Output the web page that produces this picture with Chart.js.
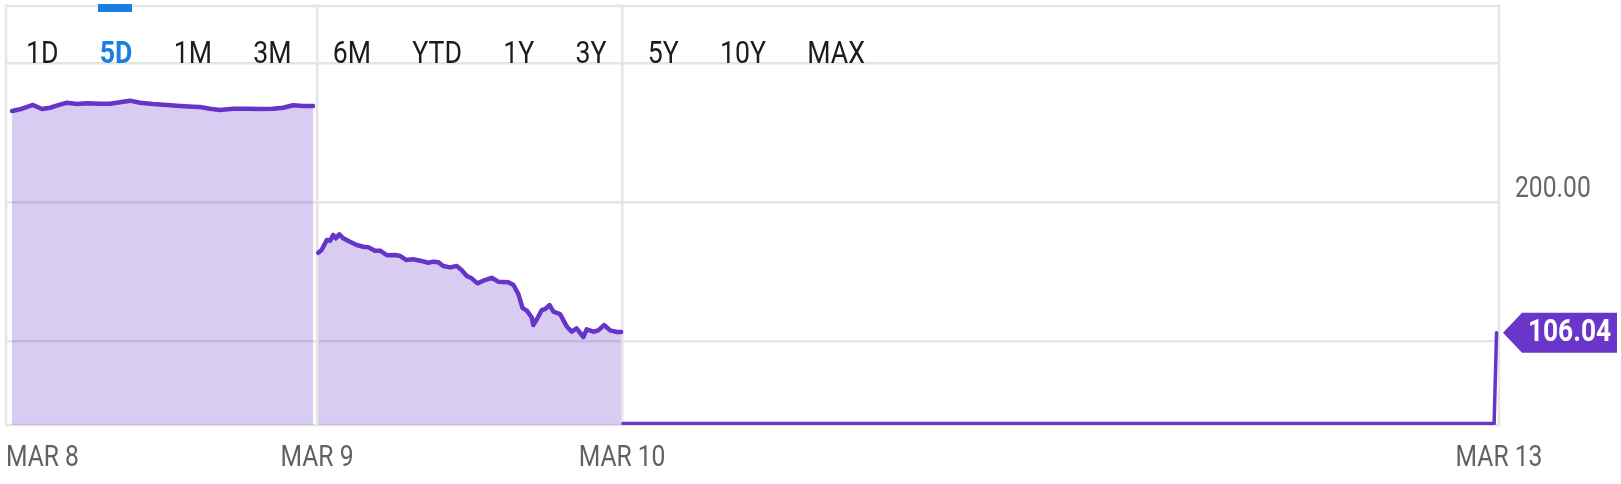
<!DOCTYPE html>
<html>
<head>
<meta charset="utf-8">
<script src="https://cdn.jsdelivr.net/npm/chart.js@4"></script>
<style>
  body { margin: 0; background: #fff; font-family: Roboto, sans-serif; }
  #wrap { position: relative; width: 1621px; height: 484px; }
  #ranges {
    position: absolute; left: 26px; top: 37px; display: flex; gap: 48px;
    font-size: 31px; line-height: 31px; color: #1c1c1c;
    transform: scaleX(0.86); transform-origin: 0 0; white-space: nowrap;
  }
  #ranges .active { color: #1a7fe3; font-weight: bold; }
  #activeBar { position: absolute; left: 98px; top: 4px; width: 34px; height: 8px; background: #1a7fe3; }
</style>
</head>
<body>
<div id="wrap">
  <canvas id="myChart"></canvas>
  <div id="ranges"></div>
  <div id="activeBar"></div>
</div>
<script>
// tick labels / ranges
const rangeButtons = ['1D', '5D', '1M', '3M', '6M', 'YTD', '1Y', '3Y', '5Y', '10Y', 'MAX'];
const activeRange = '5D';
const dayLabels = ['MAR 8', 'MAR 9', 'MAR 10', 'MAR 13'];
const dayTicks = [0, 1, 2, 4.875];
const priceTicks = [100, 200, 300];
const labelledPrices = [200];
const lastPrice = 106.04;

// MAR 8 session (x = days from MAR 8)
const mar8Times = [0, 0.026, 0.069, 0.098, 0.125, 0.157, 0.18, 0.213, 0.246, 0.289, 0.321, 0.354, 0.387, 0.42,
  0.462, 0.508, 0.551, 0.593, 0.616, 0.649, 0.682, 0.725, 0.77, 0.813, 0.856, 0.889, 0.921, 0.954, 0.987];
const mar8Prices = [265.5, 266.7, 269.8, 266.9, 267.8, 270.0, 271.4, 270.5, 271.0, 270.7, 270.7, 271.7, 272.9, 271.4,
  270.5, 269.8, 269.1, 268.6, 268.3, 267.1, 266.2, 267.1, 267.1, 266.9, 267.1, 267.8, 269.6, 269.1, 269.1];

// MAR 9 session
const mar9Times = [1.004, 1.015, 1.032, 1.043, 1.053, 1.062, 1.073, 1.086, 1.108, 1.130, 1.152, 1.168, 1.190, 1.207,
  1.229, 1.256, 1.272, 1.292, 1.316, 1.338, 1.365, 1.381, 1.398, 1.414, 1.436, 1.458, 1.474, 1.491, 1.507, 1.526,
  1.545, 1.573, 1.594, 1.627, 1.644, 1.660, 1.674, 1.688, 1.704, 1.709, 1.720, 1.737, 1.748, 1.762, 1.775, 1.797,
  1.819, 1.835, 1.851, 1.873, 1.884, 1.906, 1.922, 1.941, 1.961, 1.983, 1.997];
const mar9Prices = [163.5, 165.5, 172.7, 172.2, 176.3, 173.9, 176.8, 173.9, 171.4, 169.1, 167.8, 167.4, 165.0, 165.0,
  161.7, 161.9, 161.2, 158.3, 158.8, 157.8, 156.3, 157.1, 156.6, 154.0, 153.0, 154.0, 151.1, 146.8, 145.1, 141.5,
  143.4, 145.5, 142.7, 142.2, 140.3, 133.8, 123.7, 121.9, 116.9, 111.5, 115.5, 122.3, 123.0, 125.9, 121.2, 119.4,
  110.4, 106.7, 109.1, 102.9, 108.4, 106.7, 107.7, 111.5, 107.7, 106.5, 106.5];

// MAR 10 -> MAR 13 (flat at the bottom, then the last quote)
const mar10Times = [2.003, 4.859, 4.867];
const mar10Prices = [40.6, 40.6, lastPrice];

const lineColor = '#6634c9';
const fillColor = 'rgba(102, 51, 204, 0.25)';
const gridColor = '#e5e5e5';

// range buttons row
const rangesDiv = document.getElementById('ranges');
rangeButtons.forEach(r => {
  const span = document.createElement('span');
  span.textContent = r;
  if (r === activeRange) span.className = 'active';
  rangesDiv.appendChild(span);
});

const toPoints = (times, prices) => times.map((t, i) => ({ x: t, y: prices[i] }));

function condensedText(c, text, x, y, align) {
  c.save();
  c.translate(x, y);
  c.scale(0.85, 1);
  c.textAlign = align;
  c.fillText(text, 0, 0);
  c.restore();
}

const framePlugin = {
  id: 'frame',
  beforeDatasetsDraw(chart) {
    const a = chart.chartArea;
    const c = chart.ctx;
    c.save();
    c.strokeStyle = gridColor;
    c.lineWidth = 2.5;
    c.strokeRect(a.left, a.top, a.right - a.left, a.bottom - a.top);
    c.restore();
  }
};

const labelsPlugin = {
  id: 'labels',
  afterDraw(chart) {
    const c = chart.ctx;
    const a = chart.chartArea;
    const xs = chart.scales.x;
    const ys = chart.scales.y;
    c.save();
    c.textBaseline = 'alphabetic';
    c.font = '29px Roboto';
    c.fillStyle = '#616161';
    xs.ticks.forEach((t, i) => {
      const px = i === 0 ? a.left : xs.getPixelForValue(t.value);
      condensedText(c, dayLabels[i], px, 466, i === 0 ? 'left' : 'center');
    });
    c.fillStyle = '#666';
    labelledPrices.forEach(p => {
      condensedText(c, p.toFixed(2), a.right + 16, ys.getPixelForValue(p) - 5.5, 'left');
    });

    // last price tag
    const py = ys.getPixelForValue(lastPrice);
    const tip = a.right + 4;
    c.fillStyle = '#6a35c9';
    c.beginPath();
    c.moveTo(tip, py);
    c.lineTo(tip + 19, py - 20);
    c.lineTo(1617, py - 20);
    c.lineTo(1617, py + 20);
    c.lineTo(tip + 19, py + 20);
    c.closePath();
    c.fill();
    c.fillStyle = '#fff';
    c.font = 'bold 31px Roboto';
    c.textBaseline = 'middle';
    condensedText(c, lastPrice.toFixed(2), (tip + 19 + 1617) / 2, py + 1, 'center');
    c.restore();
  }
};

const ctx = document.getElementById('myChart').getContext('2d');
const chart = new Chart(ctx, {
  type: 'line',
  data: {
    datasets: [
      {
        data: toPoints(mar8Times, mar8Prices),
        borderColor: lineColor,
        backgroundColor: fillColor,
        fill: 'start'
      },
      {
        data: toPoints(mar9Times, mar9Prices),
        borderColor: lineColor,
        backgroundColor: fillColor,
        fill: 'start'
      },
      {
        data: toPoints(mar10Times, mar10Prices),
        borderColor: lineColor,
        borderWidth: 3.5,
        fill: false
      }
    ]
  },
  options: {
    responsive: true,
    maintainAspectRatio: false,
    animation: false,
    layout: { padding: { left: 6, top: 6, right: 0, bottom: 0 } },
    elements: {
      line: { borderWidth: 4.5, tension: 0, borderCapStyle: 'round', borderJoinStyle: 'round' },
      point: { radius: 0 }
    },
    plugins: { legend: { display: false }, tooltip: { enabled: false } },
    scales: {
      x: {
        type: 'linear',
        min: -0.0197,
        max: 4.875,
        afterBuildTicks: scale => { scale.ticks = dayTicks.map(v => ({ value: v })); },
        afterFit: scale => { scale.height = 59; },
        ticks: { display: false },
        border: { display: false },
        grid: {
          drawTicks: false,
          lineWidth: 2.5,
          color: c => (c.tick && (c.tick.value === 0 || c.tick.value === 4.875)) ? 'rgba(0,0,0,0)' : gridColor
        }
      },
      y: {
        position: 'right',
        min: 39.6,
        max: 341,
        afterBuildTicks: scale => { scale.ticks = priceTicks.map(v => ({ value: v })); },
        afterFit: scale => { scale.width = 122; },
        ticks: { display: false },
        border: { display: false },
        grid: { drawTicks: false, lineWidth: 2.5, color: gridColor }
      }
    }
  },
  plugins: [framePlugin, labelsPlugin]
});
</script>
</body>
</html>
